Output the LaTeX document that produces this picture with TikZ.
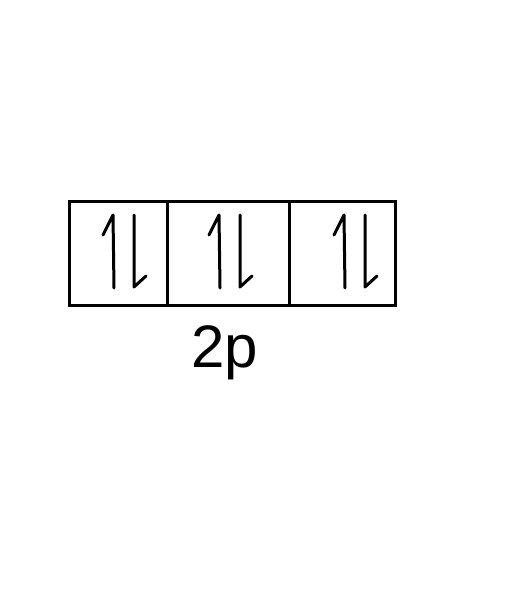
\documentclass[tikz,border=0pt]{standalone}
\usepackage{fontspec}
\setmainfont{Liberation Sans}
\usetikzlibrary{positioning}

\tikzset{
  orbital/.style={draw, line width=3pt, minimum height=104pt, inner sep=0pt},
  spin/.style={line width=3pt, line cap=round, line join=round}
}

\begin{document}
\begin{tikzpicture}[x=1pt,y=-1pt]
  \useasboundingbox (0,0) rectangle (518,615);
  % the three 2p orbitals
  \node[orbital, minimum width=98pt] (p1) at (118,253.5) {};
  \node[orbital, minimum width=122pt] (p2) at (228,253.5) {};
  \node[orbital, minimum width=106pt] (p3) at (342,253.5) {};
  % paired electrons
  \foreach \x in {113,219,344} {
    \draw[spin] (\x-10,235) -- (\x,215) -- (\x+1,288);
    \draw[spin] (\x+21,215) -- (\x+21,287) -- (\x+33,276);
  }
  \node[font=\fontsize{60}{60}\selectfont, anchor=base] (lbl) at (225,367) {2p};
\end{tikzpicture}
\end{document}
